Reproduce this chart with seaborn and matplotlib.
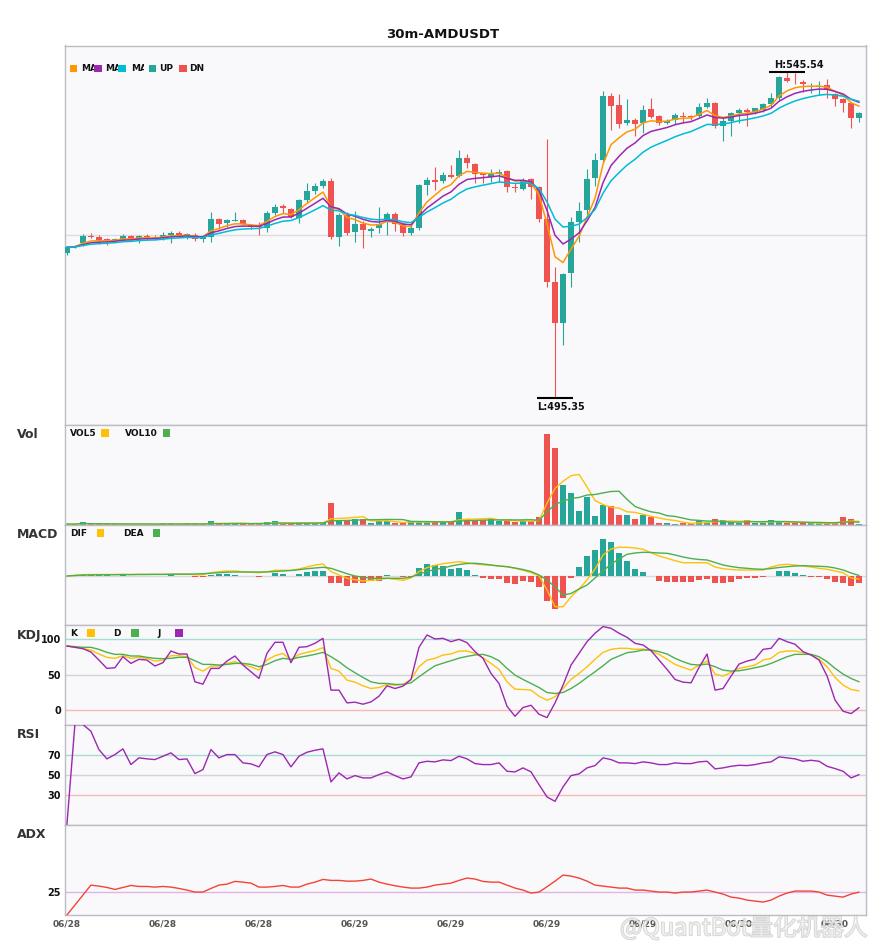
import numpy as np
import pandas as pd
import matplotlib
matplotlib.use("Agg")
import matplotlib.pyplot as plt
import matplotlib.patheffects as pe
from matplotlib.patches import Rectangle
from matplotlib.transforms import Bbox, TransformedBbox
import seaborn as sns

SYMBOL = "30m-AMDUSDT"
tick_labels = ["06/28", "06/28", "06/28", "06/29", "06/29", "06/29", "06/29", "06/30", "06/30"]
tick_step = 12
ref_price = 520.5
ma_spans = [5, 8, 13]

opens = [517.61, 518.54, 519.12, 520.27, 520.07, 519.81, 519.55, 519.77, 520.27, 519.86,
         520.27, 520.17, 520.01, 520.38, 520.73, 520.27, 520.43, 519.77, 520.17, 522.89,
         522.32, 522.58, 522.73, 521.97, 521.86, 521.50, 523.76, 524.89, 524.43, 523.00,
         525.81, 527.24, 527.96, 528.78, 520.07, 523.50, 520.84, 522.16, 521.04, 521.46,
         522.73, 523.61, 522.16, 520.69, 521.46, 528.12, 528.89, 528.78, 529.66, 529.50,
         532.32, 531.35, 529.92, 529.39, 529.76, 530.32, 527.81, 527.50, 528.99, 527.76,
         522.89, 513.25, 506.94, 514.63, 522.47, 524.27, 529.24, 531.96, 541.81, 540.42,
         537.70, 538.11, 537.61, 539.81, 538.73, 537.70, 538.11, 538.78, 538.73, 538.68,
         540.16, 540.68, 537.24, 537.96, 539.14, 539.65, 539.39, 539.65, 540.53, 541.54,
         544.62, 544.11, 544.00, 543.24, 543.24, 543.50, 542.07, 541.30, 540.68, 538.47]
highs = [518.74, 518.89, 520.58, 520.73, 520.47, 519.97, 519.89, 520.58, 520.43, 520.43,
         520.58, 520.43, 520.89, 521.09, 521.00, 520.78, 520.78, 520.38, 523.96, 523.04,
         522.93, 523.96, 522.93, 522.12, 522.43, 524.12, 525.15, 525.20, 524.58, 526.01,
         528.47, 528.47, 528.99, 529.19, 523.86, 524.01, 524.12, 522.58, 521.70, 524.73,
         524.01, 524.01, 522.27, 522.23, 528.22, 529.39, 530.96, 530.16, 531.19, 533.50,
         532.84, 531.55, 530.01, 530.53, 530.53, 530.42, 528.38, 529.15, 529.19, 527.96,
         535.19, 515.51, 514.63, 523.24, 525.55, 530.53, 533.09, 542.57, 542.31, 542.11,
         541.34, 538.42, 540.42, 541.54, 538.88, 538.22, 539.14, 539.39, 538.88, 540.68,
         541.54, 540.84, 538.42, 539.39, 539.91, 539.91, 540.01, 540.68, 542.31, 544.93,
         545.54, 545.34, 544.27, 543.76, 544.11, 544.42, 542.22, 541.54, 540.84, 539.39]
lows = [517.40, 518.43, 518.74, 519.97, 519.04, 518.93, 519.43, 519.46, 519.50, 519.15,
        519.66, 519.66, 519.66, 519.15, 520.07, 519.86, 519.55, 519.35, 519.35, 521.40,
        521.70, 522.53, 521.92, 521.30, 520.47, 520.93, 523.50, 523.76, 523.04, 522.32,
        525.55, 526.73, 527.61, 519.86, 518.78, 520.43, 519.40, 518.47, 520.17, 520.69,
        520.43, 521.04, 520.32, 520.43, 521.20, 526.58, 527.35, 528.38, 529.15, 529.35,
        530.69, 528.38, 528.38, 528.62, 528.62, 527.09, 527.09, 527.35, 525.96, 522.47,
        512.38, 495.35, 503.51, 512.48, 519.40, 523.50, 527.96, 531.55, 536.58, 536.88,
        537.35, 535.65, 536.12, 538.42, 537.35, 537.50, 537.45, 537.85, 538.11, 538.38,
        539.91, 536.84, 534.88, 535.70, 537.61, 537.24, 538.99, 539.39, 540.16, 541.19,
        544.00, 543.61, 542.47, 542.22, 541.96, 541.54, 540.31, 539.39, 536.84, 537.76]
closes = [518.54, 518.74, 520.27, 520.17, 519.66, 519.50, 519.77, 520.27, 519.77, 520.27,
          520.07, 519.86, 520.43, 520.69, 520.38, 520.58, 519.77, 520.07, 522.89, 522.12,
          522.73, 522.73, 522.07, 521.70, 521.70, 523.81, 524.73, 524.63, 523.24, 525.81,
          527.19, 527.96, 528.78, 520.17, 523.50, 520.73, 522.12, 521.20, 521.35, 522.07,
          523.61, 522.07, 520.69, 521.46, 528.12, 528.89, 528.62, 529.66, 529.35, 532.27,
          531.55, 529.76, 529.66, 529.76, 530.07, 527.86, 527.70, 528.89, 527.76, 522.89,
          513.25, 506.94, 514.43, 522.38, 524.12, 529.04, 531.96, 541.81, 540.31, 537.50,
          538.11, 537.45, 539.65, 538.62, 537.70, 538.01, 538.88, 538.65, 538.53, 540.16,
          540.68, 537.24, 537.96, 539.14, 539.65, 539.39, 539.91, 540.53, 541.54, 544.77,
          544.11, 544.04, 543.65, 543.39, 543.39, 542.73, 541.30, 540.77, 538.47, 539.14]
volumes = [70, 50, 230, 50, 70, 50, 30, 70, 50, 50,
           50, 30, 130, 130, 50, 130, 50, 50, 330, 100,
           100, 130, 100, 70, 130, 230, 330, 100, 100, 200,
           200, 200, 200, 2130, 430, 370, 530, 530, 130, 370,
           370, 130, 130, 330, 330, 270, 370, 270, 270, 1230,
           600, 430, 430, 530, 370, 370, 270, 370, 370, 730,
           9030, 7630, 3930, 3170, 1370, 2770, 830, 1930, 1830, 930,
           930, 530, 1000, 770, 130, 130, 70, 200, 130, 400,
           270, 530, 430, 270, 200, 430, 170, 200, 430, 270,
           200, 170, 170, 130, 130, 170, 170, 730, 600, 30]
dif_vals = [0.0, 0.7, 1.3, 1.5, 1.5, 1.5, 1.5, 1.7, 1.5, 1.7,
            1.7, 1.7, 1.7, 2.0, 2.0, 2.0, 1.3, 1.3, 3.3, 4.3,
            5.0, 5.0, 4.3, 3.7, 3.3, 4.3, 5.7, 5.7, 5.7, 7.0,
            9.0, 11.0, 12.0, 4.5, 1.0, -2.3, -3.7, -5.0, -4.3, -3.7,
            -2.3, -3.3, -4.3, -2.0, 4.3, 8.3, 10.7, 12.3, 13.3, 14.3,
            13.3, 12.0, 11.3, 10.7, 10.0, 9.3, 7.7, 5.7, 3.3, 0.3,
            -14.0, -30.7, -30.7, -21.0, -13.0, -4.0, 7.0, 21.0, 27.0, 28.7,
            28.7, 28.0, 26.7, 23.3, 20.0, 17.7, 15.3, 13.3, 13.3, 13.3,
            13.3, 9.0, 7.3, 6.5, 6.0, 6.0, 6.0, 6.0, 9.0, 11.0,
            11.7, 11.0, 10.0, 9.0, 7.7, 6.7, 5.0, 3.3, -2.0, -3.0]
dea_vals = [0.0, 0.5, 1.0, 1.1, 1.2, 1.3, 1.3, 1.4, 1.4, 1.5,
            1.5, 1.6, 1.6, 1.7, 1.8, 1.8, 2.0, 2.3, 2.8, 3.3,
            3.8, 4.0, 4.0, 4.0, 4.0, 4.0, 4.5, 5.0, 5.5, 6.3,
            7.3, 8.0, 8.7, 7.7, 5.0, 2.3, 0.0, -1.3, -2.3, -2.3,
            -2.3, -2.3, -2.3, -1.0, 2.0, 4.5, 6.5, 8.0, 10.0, 11.5,
            12.5, 12.7, 12.0, 11.0, 10.0, 9.3, 8.0, 6.5, 4.5, 1.0,
            -4.0, -11.0, -19.0, -17.5, -13.0, -9.0, -2.0, 5.0, 12.0, 17.0,
            21.7, 23.0, 23.7, 23.5, 23.0, 22.7, 21.0, 19.0, 17.5, 16.5,
            16.0, 13.5, 11.0, 9.5, 8.3, 7.7, 7.0, 6.7, 7.5, 8.5,
            9.3, 10.0, 10.3, 10.0, 9.7, 9.3, 8.0, 6.0, 3.0, 0.5]
macd_vals = [0.0, 0.3, 0.7, 1.0, 1.0, 0.7, 0.3, 0.7, 0.3, 0.3,
             0.3, 0.2, 0.3, 0.7, 0.5, 0.3, -0.7, -0.7, 1.3, 1.7,
             1.7, 1.3, 0.5, -0.3, -1.0, 0.5, 2.7, 2.0, 0.3, 2.0,
             3.7, 4.7, 5.0, -6.7, -6.7, -9.7, -7.3, -6.7, -5.0, -5.0,
             0.7, -0.3, -0.7, -0.7, 8.0, 12.0, 10.7, 10.0, 7.0, 8.3,
             6.0, 1.0, -1.7, -3.3, -3.3, -7.3, -8.0, -5.0, -5.7, -10.7,
             -24.7, -33.3, -21.7, -1.7, 9.3, 20.0, 26.0, 37.0, 33.7, 23.3,
             15.0, 7.0, 4.3, 0.0, -5.0, -5.7, -5.7, -5.7, -6.3, -4.0,
             -3.3, -7.3, -7.3, -5.7, -3.3, -2.3, -2.3, -0.7, 0.0, 5.0,
             5.0, 2.7, 1.0, -0.7, -1.3, -3.3, -5.7, -6.7, -9.7, -7.3]
k_vals = [90.1, 88.3, 86.4, 84.5, 78.9, 74.2, 72.8, 76.5, 72.8, 74.2,
          72.8, 69.0, 70.4, 76.5, 76.5, 75.1, 60.1, 54.9, 61.9, 61.9,
          65.7, 68.1, 64.3, 61.0, 56.3, 70.4, 76.5, 79.8, 70.4, 78.4,
          81.2, 83.6, 87.8, 58.7, 54.9, 42.3, 39.4, 34.3, 30.5, 31.9,
          36.2, 35.2, 36.2, 43.2, 61.0, 70.4, 72.8, 77.5, 78.9, 83.1,
          83.1, 79.8, 73.7, 65.7, 57.3, 39.9, 29.6, 29.1, 28.2, 19.7,
          14.1, 18.8, 30.5, 43.2, 51.6, 61.0, 71.4, 81.2, 85.4, 86.9,
          86.9, 85.4, 85.9, 83.6, 78.4, 71.4, 64.3, 60.1, 56.3, 63.4,
          69.0, 50.7, 47.9, 53.1, 58.7, 61.0, 63.4, 70.4, 72.8, 81.2,
          83.1, 83.1, 80.8, 77.5, 71.4, 61.0, 46.0, 35.2, 29.1, 27.2]
d_vals = [90.1, 89.2, 88.3, 88.3, 85.4, 81.2, 78.4, 78.4, 76.1, 76.1,
          74.2, 72.8, 72.3, 72.8, 74.2, 74.2, 69.5, 64.3, 64.3, 63.4,
          64.3, 65.7, 65.7, 64.3, 61.0, 64.3, 69.5, 72.8, 71.4, 74.2,
          76.1, 78.4, 81.2, 75.1, 68.1, 59.6, 52.6, 46.0, 39.9, 37.6,
          37.6, 36.2, 36.2, 38.5, 46.9, 54.9, 62.4, 66.0, 69.5, 73.0,
          75.6, 77.5, 78.4, 75.1, 69.5, 58.7, 49.3, 43.2, 37.6, 31.9,
          24.9, 23.5, 24.9, 30.5, 37.6, 46.0, 54.0, 62.4, 71.4, 76.1,
          80.8, 82.2, 84.5, 84.5, 82.2, 78.9, 72.8, 68.1, 64.3, 63.4,
          64.8, 61.0, 56.3, 54.9, 55.4, 57.3, 59.6, 62.0, 65.7, 70.4,
          75.1, 78.4, 78.4, 78.4, 75.1, 68.1, 58.7, 50.7, 44.6, 39.9]
j_vals = [90.1, 88.3, 86.4, 81.7, 70.4, 58.7, 59.6, 75.1, 65.7, 71.4,
          70.4, 62.0, 66.7, 83.1, 78.9, 78.9, 39.9, 36.6, 58.7, 58.7,
          69.0, 76.1, 63.4, 54.0, 44.6, 79.8, 95.3, 95.3, 66.7, 88.3,
          89.2, 93.9, 100.9, 28.2, 28.2, 10.3, 11.3, 8.5, 11.7, 19.7,
          34.3, 30.5, 33.8, 43.2, 88.3, 105.6, 100.0, 100.9, 96.2, 99.5,
          94.8, 82.2, 72.8, 51.6, 37.6, 5.6, -8.5, 3.8, 7.0, -5.6,
          -10.3, 10.3, 35.2, 63.4, 79.8, 96.2, 108.0, 117.4, 115.0, 108.0,
          102.3, 93.9, 91.5, 83.6, 70.4, 57.3, 43.2, 39.4, 38.5, 60.1,
          78.9, 28.2, 30.5, 47.9, 64.8, 69.0, 71.8, 85.4, 86.9, 100.9,
          96.2, 92.5, 82.2, 77.5, 70.4, 47.9, 14.1, -1.4, -4.7, 3.8]
rsi_vals = [0.0, 100.0, 100.0, 93.3, 75.0, 65.7, 70.0, 75.7, 60.0, 66.7,
            65.7, 65.0, 68.3, 71.7, 65.0, 65.7, 51.0, 55.0, 75.0, 66.7,
            70.0, 70.0, 61.7, 60.7, 57.7, 70.0, 72.7, 70.0, 57.7, 68.3,
            72.3, 74.3, 75.7, 42.7, 51.7, 45.7, 49.0, 46.7, 46.7, 50.0,
            52.7, 49.0, 45.7, 47.7, 61.7, 63.3, 62.7, 64.7, 64.0, 68.3,
            65.7, 61.0, 60.0, 60.0, 61.7, 53.3, 52.7, 56.7, 52.7, 40.0,
            27.7, 23.3, 37.7, 49.0, 50.7, 56.7, 59.0, 66.7, 65.0, 61.7,
            61.7, 61.0, 62.7, 61.7, 60.0, 60.0, 61.7, 61.0, 61.0, 62.7,
            63.3, 55.7, 56.7, 58.3, 59.3, 59.0, 60.0, 61.7, 62.7, 67.7,
            66.7, 65.7, 63.3, 64.3, 63.3, 58.3, 56.0, 53.3, 46.7, 50.0]
adx_vals = [0.0, 11.0, 22.0, 33.1, 32.0, 30.5, 28.3, 30.5, 32.7, 31.6,
            31.6, 30.9, 31.6, 30.9, 29.4, 27.6, 25.4, 25.4, 29.4, 33.1,
            34.2, 37.2, 36.4, 35.3, 30.9, 30.9, 31.6, 32.7, 30.9, 30.9,
            34.2, 36.4, 39.4, 38.3, 38.3, 37.5, 37.5, 38.3, 39.8, 36.4,
            34.2, 32.4, 30.9, 29.8, 29.8, 30.9, 33.1, 34.2, 35.3, 38.3,
            40.9, 39.8, 37.2, 36.4, 36.4, 33.1, 29.8, 27.6, 24.3, 25.4,
            31.3, 37.5, 44.2, 43.1, 40.9, 37.5, 33.1, 32.0, 30.9, 29.8,
            29.8, 27.6, 27.6, 26.5, 25.4, 25.4, 24.3, 25.4, 25.4, 26.5,
            27.6, 25.4, 23.2, 19.8, 18.7, 16.5, 15.4, 14.3, 16.5, 20.9,
            24.3, 26.5, 26.5, 26.5, 25.4, 22.0, 20.9, 19.8, 23.2, 25.4]

UP, DN = "#26a69a", "#ef5350"
C_MA = ["#ff9800", "#9c27b0", "#00bcd4"]
C_YEL, C_GRN, C_PUR, C_ADX = "#ffc107", "#4caf50", "#9c27b0", "#f44336"

df = pd.DataFrame({"open": opens, "high": highs, "low": lows,
                   "close": closes, "volume": volumes})
idx = np.arange(len(df))
for n in ma_spans:
    df[f"ma{n}"] = df["close"].ewm(span=n, adjust=False).mean()
df["vol5"] = df["volume"].rolling(5, min_periods=1).mean()
df["vol10"] = df["volume"].rolling(10, min_periods=1).mean()

sns.set_theme(style="white")
plt.rcParams["font.family"] = ["DejaVu Sans"]

W, H = 885, 950
fig = plt.figure(figsize=(W / 100, H / 100), dpi=100)


def fx(px):
    return px / W


def fy(py):
    return 1 - py / H


X0, X1 = 65.3, 865.5


def panel(top, bottom, **kw):
    ax = fig.add_axes([fx(X0), fy(bottom), fx(X1) - fx(X0), (bottom - top) / H], **kw)
    ax.set_facecolor("#f9f9fb")
    for s in ax.spines.values():
        s.set_color("#bcbcc4")
        s.set_linewidth(1)
    return ax


def line(ax, y, color, lw=1.0, z=4):
    sns.lineplot(x=idx, y=np.asarray(y), ax=ax, color=color, lw=lw,
                 estimator=None, sort=False, legend=False, zorder=z)
    ax.set_ylabel("")


def legend(items, y, sq=7.5, size=6.5, clip=None):
    for text, tx, sx, color in items:
        t = fig.text(fx(tx), fy(y), text, fontsize=size, fontweight="bold",
                     va="center", ha="left", color="#111111", zorder=10)
        if clip:
            box = Bbox.from_extents(fx(tx), 0, fx(tx + clip), 1)
            t.set_clip_box(TransformedBbox(box, fig.transFigure))
            t.set_clip_on(True)
        fig.add_artist(Rectangle((fx(sx), fy(y + sq / 2)), sq / W, sq / H,
                                 transform=fig.transFigure, facecolor=color,
                                 edgecolor="none", zorder=11))


def ytick_style(ax, ticks):
    ax.set_yticks(ticks)
    ax.tick_params(axis="y", length=0, pad=3, labelsize=7, labelcolor="#111111")
    for lbl in ax.get_yticklabels():
        lbl.set_fontweight("bold")


ax_main = panel(45.5, 424.7)
ax_vol = panel(424.7, 524.7, sharex=ax_main)
ax_macd = panel(524.7, 624.7, sharex=ax_main)
ax_kdj = panel(624.7, 724.5, sharex=ax_main)
ax_rsi = panel(724.5, 824.7, sharex=ax_main)
ax_adx = panel(824.7, 915.0, sharex=ax_main)

up = (df["close"] >= df["open"]).to_numpy()
colors = np.where(up, UP, DN)

# candles
ax = ax_main
ax.axhline(ref_price, color="#dcdce0", lw=1, zorder=1)
ax.vlines(idx, df["low"], df["high"], colors=colors, lw=0.8, zorder=2)
body_lo = np.minimum(df["open"], df["close"])
body_h = np.maximum((df["close"] - df["open"]).abs(), 0.12)
ax.bar(idx, body_h, bottom=body_lo, width=0.76, color=colors, linewidth=0, zorder=3)
for n, c in zip(ma_spans, C_MA):
    line(ax, df[f"ma{n}"], c, lw=1.1)
ax.set_ylim(491.25, 549.57)
ax.set_xlim(-0.2, 99.8)
ax.set_yticks([])

ih = int(np.argmax(highs))
il = int(np.argmin(lows))
ax.hlines(highs[ih], ih - 2.2, ih + 2.2, color="black", lw=1.5, zorder=5)
ax.text(ih + 1.5, highs[ih] + 0.3, f"H:{highs[ih]:.2f}", ha="center", va="bottom",
        fontsize=7, fontweight="bold", color="#111111")
ax.hlines(lows[il], il - 2.2, il + 2.2, color="black", lw=1.5, zorder=5)
ax.text(il + 0.8, lows[il] - 0.6, f"L:{lows[il]:.2f}", ha="center", va="top",
        fontsize=7, fontweight="bold", color="#111111")

# volume
ax = ax_vol
ax.bar(idx, df["volume"], width=0.76, color=colors, linewidth=0, zorder=2)
line(ax, df["vol5"], C_YEL)
line(ax, df["vol10"], C_GRN)
ax.set_ylim(0, df["volume"].max() * 1.107)
ax.set_yticks([])

# macd
ax = ax_macd
ax.axhline(0, color="#dadade", lw=1, zorder=1)
macd_arr = np.asarray(macd_vals)
ax.bar(idx, macd_arr, width=0.76, color=np.where(macd_arr >= 0, UP, DN),
       linewidth=0, zorder=2)
line(ax, dif_vals, C_YEL)
line(ax, dea_vals, C_GRN)
ax.set_ylim(-48.7, 51.3)
ax.set_yticks([])

# kdj
ax = ax_kdj
ax.axhline(100, color="#a8dbd3", lw=1, zorder=1)
ax.axhline(50, color="#d4d4d8", lw=1, zorder=1)
ax.axhline(0, color="#f6b8b8", lw=1, zorder=1)
line(ax, k_vals, C_YEL)
line(ax, d_vals, C_GRN)
line(ax, j_vals, C_PUR)
ax.set_ylim(-20, 120)
ytick_style(ax, [0, 50, 100])

# rsi
ax = ax_rsi
ax.axhline(70, color="#a8dbd3", lw=1, zorder=1)
ax.axhline(50, color="#d4d4d8", lw=1, zorder=1)
ax.axhline(30, color="#f6b8b8", lw=1, zorder=1)
line(ax, rsi_vals, C_PUR)
ax.set_ylim(0, 100)
ytick_style(ax, [30, 50, 70])

# adx
ax = ax_adx
ax.axhline(25, color="#e0b4e6", lw=1, zorder=1)
line(ax, adx_vals, C_ADX)
ax.set_ylim(0, 100)
ytick_style(ax, [25])
ax.set_xticks(np.arange(len(tick_labels)) * tick_step)
ax.set_xticklabels(tick_labels)
ax.tick_params(axis="x", length=0, pad=3, labelsize=6.5, labelcolor="#555555")
for lbl in ax.get_xticklabels():
    lbl.set_fontweight("bold")

for a in (ax_main, ax_vol, ax_macd, ax_kdj, ax_rsi):
    a.tick_params(axis="x", labelbottom=False, length=0)
    a.set_xlabel("")
ax_adx.set_xlabel("")

# text furniture
fig.text(0.5, fy(34), SYMBOL, ha="center", va="center", fontsize=9.5,
         fontweight="bold", color="#111111")
for name, yy in [("Vol", 434.5), ("MACD", 534.5), ("KDJ", 635), ("RSI", 735), ("ADX", 835)]:
    fig.text(fx(17), fy(yy), name, fontsize=9, fontweight="bold", color="#333333", va="center")

legend([(f"MA{ma_spans[0]}", 81, 70, C_MA[0]), (f"MA{ma_spans[1]}", 105, 94.3, C_MA[1]),
        (f"MA{ma_spans[2]}", 131, 118.3, C_MA[2])], 68.7, sq=7.3, clip=12.5)
legend([("UP", 159, 149, UP), ("DN", 189, 179.3, DN)], 68.7, sq=7.3)
legend([("VOL5", 70, 101, C_YEL), ("VOL10", 125, 162.7, C_GRN)], 433)
legend([("DIF", 70, 96.7, C_YEL), ("DEA", 123, 152.7, C_GRN)], 533)
legend([("K", 70, 87, C_YEL), ("D", 113, 131, C_GRN), ("J", 157, 175.3, C_PUR)], 633)

# watermark of the source page, semi-transparent so the dates show through
fig.text(fx(620), fy(928), "@QuantBot量化机器人", fontsize=17, color=(1, 1, 1, 0.5),
         family=["Noto Sans CJK SC", "DejaVu Sans"],
         va="center", ha="left", zorder=20,
         path_effects=[pe.withStroke(linewidth=1.2, foreground=(0.7, 0.7, 0.7, 0.55))])

fig.savefig("out.png", dpi=100)
